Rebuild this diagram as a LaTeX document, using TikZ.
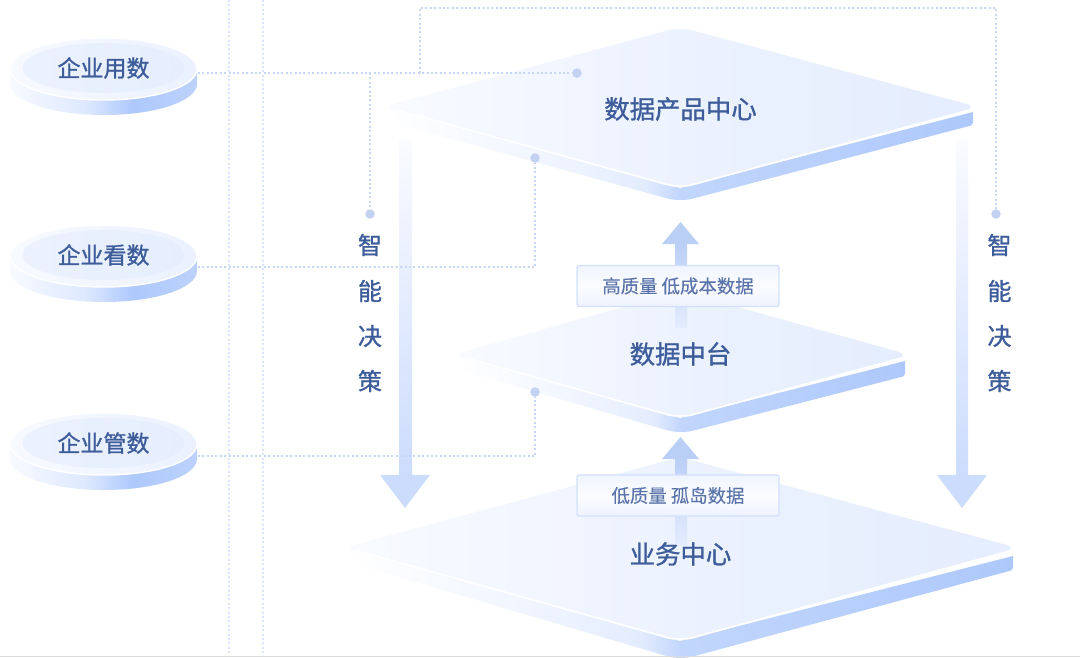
\documentclass[tikz,border=0pt]{standalone}
\usepackage{fontspec}
\usetikzlibrary{shapes.geometric}
\newfontfamily\cjk[FakeBold=1.1]{Noto Sans CJK SC}
\newfontfamily\cjklight[FakeBold=0.2]{Noto Sans CJK SC}
\definecolor{inktext}{HTML}{3D5C9A}
\definecolor{softtext}{HTML}{5A74AA}
\definecolor{dotblue}{HTML}{C6D6F5}
\definecolor{dotfill}{HTML}{C3D2F0}
\definecolor{guide}{HTML}{DAE5FB}
\definecolor{headup}{HTML}{BACFF6}
\definecolor{headdown}{HTML}{CCDCFD}
\definecolor{shaftlow}{HTML}{E4ECFE}
\definecolor{shafttop}{HTML}{FAFBFF}
\definecolor{boxline}{HTML}{D3E0FC}
\definecolor{diskinner}{HTML}{E2EBFD}
\pgfdeclarehorizontalshading{platformtop}{100bp}{rgb(0bp)=(0.975,0.983,1); rgb(25bp)=(0.975,0.983,1); rgb(50bp)=(0.925,0.95,0.998); rgb(75bp)=(0.895,0.93,0.995); rgb(100bp)=(0.895,0.93,0.995)}
\pgfdeclarehorizontalshading{platformside}{100bp}{rgb(0bp)=(1,1,1); rgb(25bp)=(1,1,1); rgb(42bp)=(0.925,0.95,0.998); rgb(47bp)=(0.89,0.925,0.995); rgb(50bp)=(0.76,0.84,0.99); rgb(75bp)=(0.68,0.785,0.985); rgb(100bp)=(0.68,0.785,0.985)}
\pgfdeclarehorizontalshading{diskside}{100bp}{rgb(0bp)=(0.97,0.98,1); rgb(25bp)=(0.97,0.98,1); rgb(45bp)=(0.87,0.915,0.998); rgb(58bp)=(0.68,0.785,0.99); rgb(75bp)=(0.74,0.825,0.99); rgb(100bp)=(0.74,0.825,0.99)}
\pgfdeclarehorizontalshading{disktop}{100bp}{rgb(0bp)=(0.97,0.98,1); rgb(25bp)=(0.97,0.98,1); rgb(75bp)=(0.92,0.945,0.998); rgb(100bp)=(0.92,0.945,0.998)}
\pgfdeclareverticalshading{labelfill}{100bp}{rgb(0bp)=(0.93,0.95,0.998); rgb(25bp)=(0.93,0.95,0.998); rgb(50bp)=(0.985,0.99,1); rgb(75bp)=(0.94,0.958,0.998); rgb(100bp)=(0.94,0.958,0.998)}
\tikzset{
  dotline/.style={draw=dotblue,line width=1.8pt,dash pattern=on 2pt off 2.4pt},
  guideline/.style={draw=guide,line width=1.3pt,dash pattern=on 2pt off 2.4pt},
  dotnode/.style={circle,fill=dotfill,inner sep=0pt,minimum size=9.5pt},
  disktext/.style={ellipse,fill=diskinner,fill opacity=0.5,text opacity=1,inner sep=0pt,minimum width=162pt,minimum height=50pt,text=inktext,font=\cjk\fontsize{23}{23}\selectfont},
  platformtitle/.style={text=inktext,inner sep=0pt,font=\cjk\fontsize{25.4}{26}\selectfont},
  sidetitle/.style={text=inktext,inner sep=0pt,font=\cjk\fontsize{24}{24}\selectfont},
  labelbox/.style={draw=boxline,line width=1.3pt,rounded corners=2pt,shading=labelfill,minimum width=202pt,inner sep=0pt,text=softtext,font=\cjklight\fontsize{18.4}{19}\selectfont},
}
\newcommand{\platform}[8]{% left right midy top bottom rightsideTop rightsideBottom sideBottom
  \shade[shading=platformside] (#1,#3) -- (#1,#3+14) [rounded corners=13pt] -- (680,#8) [rounded corners=2pt] -- (#2,#7) [sharp corners] -- (#2,#6) -- (680,#5) -- cycle;
  \begin{scope}
    \clip (0,0) rectangle (#2,657);
    \shade[shading=platformtop,rounded corners=13pt] (#1-5,#3) -- (680,#4-1) -- (#2+5,#3) -- (680,#5+1) -- cycle;
    \draw[white,line width=1.6pt,rounded corners=13pt] (#1+8,#3+2.5) -- (680,#5) -- (#2+2,#3+1.5);
  \end{scope}
}
\newcommand{\diskunit}[3]{%
  \shade[shading=diskside] (10,#2) -- (10,#2+15) .. controls (10,#2+32) and (52,#2+46) .. (104,#2+46) .. controls (156,#2+46) and (197,#2+32) .. (197,#2+15) -- (197,#2) -- cycle;
  \shade[shading=disktop,draw=white,line width=1.4pt] (10,#2) .. controls (10,#2-17) and (52,#2-31) .. (104,#2-31) .. controls (156,#2-31) and (197,#2-17) .. (197,#2) .. controls (197,#2+17) and (156,#2+31) .. (104,#2+31) .. controls (52,#2+31) and (10,#2+17) .. (10,#2) -- cycle;
  \node[disktext] (#1) at (103.5,#2-1) {#3};
}
\begin{document}
\begin{tikzpicture}[x=1pt,y=-1pt]
\useasboundingbox (0,0) rectangle (1080,657);
\fill[white] (0,0) rectangle (1080,657);
% guides
\draw[guideline] (229,0) -- (229,657);
\draw[guideline] (263,0) -- (263,657);
% platforms
\platform{348}{1013}{548}{458}{641}{556}{570}{660}
\platform{457}{905}{355}{292}{418}{361}{376}{434}
\platform{387}{973}{107}{28}{188}{112}{125}{202}
% down arrows
\shade[top color=shafttop,bottom color=headdown] (399,140) rectangle (412,476);
\fill[headdown] (380,475) -- (430,475) -- (405,508) -- cycle;
\shade[top color=shafttop,bottom color=headdown] (956,140) rectangle (968,476);
\fill[headdown] (937,475) -- (987,475) -- (962,508) -- cycle;
% up arrows
\shade[top color=headup,bottom color=shaftlow] (675,243) rectangle (687,327);
\fill[headup] (680.5,222) -- (699,244) -- (662,244) -- cycle;
\shade[top color=headup,bottom color=shaftlow] (675,457) rectangle (687,545);
\fill[headup] (680.5,437) -- (699,459) -- (662,459) -- cycle;
% disks
\diskunit{use}{69}{企业用数}
\diskunit{view}{256}{企业看数}
\diskunit{manage}{444}{企业管数}
% dots
\node[dotnode] (dotA) at (577,73) {};
\node[dotnode] (dotB) at (370,214) {};
\node[dotnode] (dotC) at (996,214) {};
\node[dotnode] (dotD) at (535,158) {};
\node[dotnode] (dotE) at (535,392) {};
\coordinate (branchB) at (370,73);
\coordinate (branchC) at (420,73);
\coordinate (topL) at (420,8);
\coordinate (topR) at (996,8);
\coordinate (kneeD) at (535,267);
\coordinate (kneeE) at (535,456);
% connectors
\draw[dotline] ([yshift=-5pt]use.east) ++(13,0) -- (dotA);
\draw[dotline] (branchB) -- (dotB);
\draw[dotline] (branchC) -- (topL) -- (topR) -- (dotC);
\draw[dotline] ([yshift=-12pt]view.east) ++(13,0) -- (kneeD) -- (dotD);
\draw[dotline] ([yshift=-13pt]manage.east) ++(13,0) -- (kneeE) -- (dotE);
% labels
\node[labelbox,minimum height=41pt] (lblHigh) at (678,286) {高质量 低成本数据};
\node[labelbox,minimum height=41pt] (lblLow) at (678,495.5) {低质量 孤岛数据};
% titles
\node[platformtitle] (pProduct) at (680.5,109) {数据产品中心};
\node[platformtitle] (pMiddle) at (680.5,354) {数据中台};
\node[platformtitle] (pBusiness) at (680.5,554) {业务中心};
% side text
\foreach \yy/\tt/\nm in {245/智/a,291/能/b,336/决/c,381/策/d}{
  \node[sidetitle] (l\nm) at (370,\yy) {\tt};
  \node[sidetitle] (r\nm) at (999.5,\yy) {\tt};
}
% bottom rule
\draw[black!14,line width=1.2pt] (0,656.4) -- (1080,656.4);
\end{tikzpicture}
\end{document}
